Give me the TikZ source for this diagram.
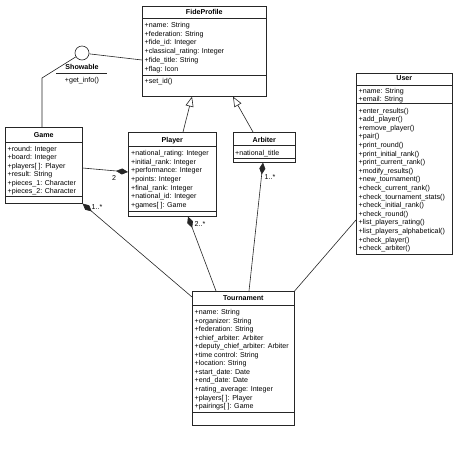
\documentclass[tikz,border=0pt]{standalone}
\usepackage{fontspec}
\setmainfont{Liberation Sans}
\usetikzlibrary{arrows.meta,calc}
\newcommand\umlrows[5]{\foreach \rowtext [count=\i] in {#5} {\node[row] (#1\i) at (#2,{#3+(\i-1)*#4}) {\rowtext};}}
\tikzset{
  cls/.style={draw=black!85, line width=0.6pt, fill=white, rectangle, anchor=north west, inner sep=0pt},
  row/.style={anchor=base west, inner sep=0pt, font=\fontsize{7.1}{8}\selectfont},
  ttl/.style={anchor=base, inner sep=0pt, font=\bfseries\fontsize{7.1}{8}\selectfont},
  lbl/.style={inner sep=0pt, font=\fontsize{7.1}{8}\selectfont},
  sep/.style={draw=black!85, line width=0.6pt},
  conn/.style={draw=black!85, line width=0.6pt},
  comp/.style={conn, {Diamond[length=12pt,width=6pt]}-},
  gen/.style={conn, -{Triangle[open,length=10pt,width=8pt]}},
}
\begin{document}
\begin{tikzpicture}[x=1pt,y=-1pt]
\fill[white] (0,0) rectangle (474,448);
\useasboundingbox (0,0) rectangle (474,448);

% FideProfile
\node[cls, minimum width=124pt, minimum height=90pt] (fide) at (142,6) {};
\draw[sep] ($(fide.north west)+(0,12)$) -- ($(fide.north east)+(0,12)$);
\draw[sep] ($(fide.north west)+(0,69)$) -- ($(fide.north east)+(0,69)$);
\node[ttl] (fidet) at ($(fide.north)+(0,8.5)$) {FideProfile};
\umlrows{fa}{144.5}{27.5}{8.7}{{+name: String},{+federation: String},{+fide\_id: Integer},{+classical\_rating: Integer},{+fide\_title: String},{+flag: Icon}}
\umlrows{fm}{144.5}{83.5}{8.7}{{+set\_id()}}

% Showable
\node[circle, draw=black!85, line width=0.6pt, fill=white, minimum size=14pt, inner sep=0pt] (show) at (82,53) {};
\node[ttl] (showt) at (82,69.5) {Showable};
\coordinate (showl) at (56,73);
\coordinate (showr) at (107,73);
\draw[sep] (showl) -- (showr);
\node[lbl, anchor=base] (showm) at (82,82.5) {+get\_info()};

% Game
\node[cls, minimum width=77pt, minimum height=76pt] (game) at (5,127) {};
\draw[sep] ($(game.north west)+(0,15)$) -- ($(game.north east)+(0,15)$);
\draw[sep] ($(game.north west)+(0,69)$) -- ($(game.north east)+(0,69)$);
\node[ttl] (gamet) at ($(game.north)+(0,10.5)$) {Game};
\umlrows{ga}{7.5}{151}{8.5}{{+round: Integer},{+board: Integer},{+players[ ]: Player},{+result: String},{+pieces\_1: Character},{+pieces\_2: Character}}

% Player
\node[cls, minimum width=88pt, minimum height=84pt] (player) at (128,132) {};
\draw[sep] ($(player.north west)+(0,14)$) -- ($(player.north east)+(0,14)$);
\draw[sep] ($(player.north west)+(0,79)$) -- ($(player.north east)+(0,79)$);
\node[ttl] (playert) at ($(player.north)+(0,10)$) {Player};
\umlrows{pa}{131}{155.5}{8.67}{{+national\_rating: Integer},{+initial\_rank: Integer},{+performance: Integer},{+points: Integer},{+final\_rank: Integer},{+national\_id: Integer},{+games[ ]: Game}}

% Arbiter
\node[cls, minimum width=62pt, minimum height=30pt] (arbiter) at (233,132) {};
\draw[sep] ($(arbiter.north west)+(0,13)$) -- ($(arbiter.north east)+(0,13)$);
\draw[sep] ($(arbiter.north west)+(0,26)$) -- ($(arbiter.north east)+(0,26)$);
\node[ttl] (arbitert) at ($(arbiter.north)+(0,10)$) {Arbiter};
\umlrows{aa}{235}{155.5}{8.6}{{+national\_title}}

% User
\node[cls, minimum width=96pt, minimum height=181pt] (user) at (356,73) {};
\draw[sep] ($(user.north west)+(0,12)$) -- ($(user.north east)+(0,12)$);
\draw[sep] ($(user.north west)+(0,30)$) -- ($(user.north east)+(0,30)$);
\node[ttl] (usert) at ($(user.north)+(0,7.5)$) {User};
\umlrows{ua}{358.5}{93}{8.3}{{+name: String},{+email: String}}
\umlrows{um}{358.5}{113}{8.6}{{+enter\_results()},{+add\_player()},{+remove\_player()},{+pair()},{+print\_round()},{+print\_initial\_rank()},{+print\_current\_rank()},{+modify\_results()},{+new\_tournament()},{+check\_current\_rank()},{+check\_tournament\_stats()},{+check\_initial\_rank()},{+check\_round()},{+list\_players\_rating()},{+list\_players\_alphabetical()},{+check\_player()},{+check\_arbiter()}}

% Tournament
\node[cls, minimum width=102pt, minimum height=134pt] (tour) at (192,291) {};
\draw[sep] ($(tour.north west)+(0,14)$) -- ($(tour.north east)+(0,14)$);
\draw[sep] ($(tour.north west)+(0,121)$) -- ($(tour.north east)+(0,121)$);
\node[ttl] (tourt) at ($(tour.north)+(0,9.5)$) {Tournament};
\umlrows{ta}{194.5}{314.5}{8.55}{{+name: String},{+organizer: String},{+federation: String},{+chief\_arbiter: Arbiter},{+deputy\_chief\_arbiter: Arbiter},{+time control: String},{+location: String},{+start\_date: Date},{+end\_date: Date},{+rating\_average: Integer},{+players[ ]: Player},{+pairings[ ]: Game}}

% Connectors
\draw[conn] (show) -- ($(fide.north west)+(0,54)$);
\coordinate (bend) at (42,78);
\draw[conn] (show) -- (bend) -- ($(game.north west)+(37,0)$);
\draw[gen] ($(player.north west)+(55,0)$) -- ($(fide.south west)+(50,0)$);
\draw[gen] ($(arbiter.north west)+(20,0)$) -- ($(fide.south west)+(91,0)$);
\draw[comp] ($(player.north west)+(0,40)$) -- ($(game.north east)+(0,41)$);
\node[lbl] (l1) at (114,178) {2};
\draw[comp] (game.south east) -- ($(tour.north west)+(0,6)$);
\node[lbl] (l2) at (97,207) {1..*};
\draw[comp] ($(player.south west)+(60,0)$) -- ($(tour.north west)+(24,0)$);
\node[lbl] (l3) at (200,224) {2..*};
\draw[comp] ($(arbiter.south west)+(30,0)$) -- ($(tour.north west)+(57,0)$);
\node[lbl] (l4) at (270,177) {1..*};
\draw[conn] ($(user.north west)+(0,147)$) -- (tour.north east);
\end{tikzpicture}
\end{document}
